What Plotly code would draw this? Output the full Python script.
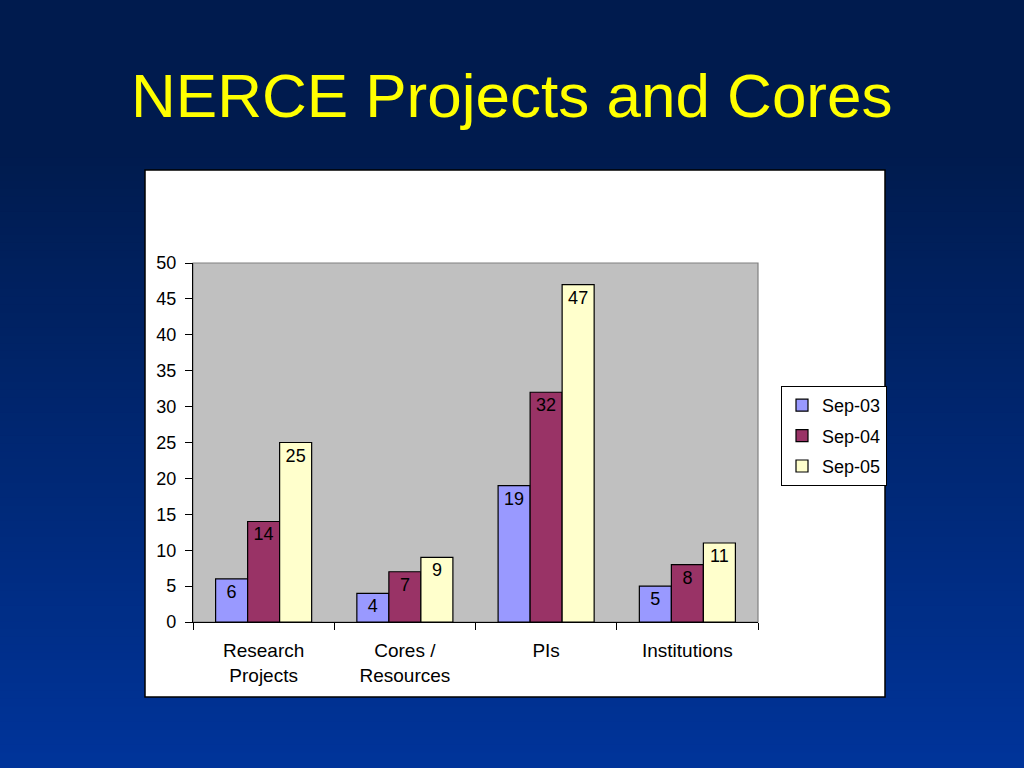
import plotly.graph_objects as go

# chart data
categories = ["Research<br>Projects", "Cores /<br>Resources", "PIs", "Institutions"]
series_names = ["Sep-03", "Sep-04", "Sep-05"]
sep03 = [6, 4, 19, 5]
sep04 = [14, 7, 32, 8]
sep05 = [25, 9, 47, 11]
y_ticks = [0, 5, 10, 15, 20, 25, 30, 35, 40, 45, 50]

colors = ["#9999FF", "#993366", "#FFFFCC"]
FONT = "Liberation Sans, Arial, sans-serif"

fig = go.Figure()
for name, vals, col in zip(series_names, [sep03, sep04, sep05], colors):
    fig.add_trace(go.Bar(
        x=categories, y=vals, name=name, legendgroup=name,
        marker=dict(color=col, line=dict(color="black", width=1.2)),
        text=[str(v) for v in vals],
        textposition="inside", insidetextanchor="end",
        textfont=dict(family=FONT, size=18, color="black"),
        textangle=0,
    ))

# plot area in page pixels; shapes below use paper coords derived from it
L, R, T, B = 193, 758, 263, 622
pw, ph = R - L, B - T
def px(x):
    return (x - L) / pw
def py(y):
    return (B - y) / ph

# slide background: flat navy on top, then a vertical gradient
top_rgb = (0, 27, 78)
bot_rgb = (0, 52, 154)
grad_start = 150
shapes = [dict(
    type="rect", xref="paper", yref="paper", layer="below",
    x0=px(-5), x1=px(1030), y0=py(grad_start), y1=py(-5),
    line=dict(width=0), fillcolor="rgb(%d,%d,%d)" % top_rgb,
)]
n_bands = 80
step = (768 - grad_start) / n_bands
for i in range(n_bands):
    t = (i + 0.5) / n_bands
    c = tuple(round(a + (b - a) * t) for a, b in zip(top_rgb, bot_rgb))
    y0 = grad_start + i * step
    shapes.append(dict(
        type="rect", xref="paper", yref="paper", layer="below",
        x0=px(-5), x1=px(1030), y0=py(y0 + step + 1), y1=py(y0),
        line=dict(width=0), fillcolor="rgb(%d,%d,%d)" % c,
    ))

# white chart panel and grey plot area
shapes.append(dict(
    type="rect", xref="paper", yref="paper", layer="below",
    x0=px(145), x1=px(885), y0=py(697), y1=py(170),
    line=dict(color="black", width=1.5), fillcolor="white",
))
shapes.append(dict(
    type="rect", xref="paper", yref="paper", layer="below",
    x0=0, x1=1, y0=0, y1=1,
    line=dict(color="#808080", width=1.2), fillcolor="#C0C0C0",
))

fig.update_layout(
    width=1024, height=768,
    margin=dict(l=L, r=1024 - R, t=T, b=768 - B),
    paper_bgcolor="rgb(%d,%d,%d)" % top_rgb,
    plot_bgcolor="rgba(0,0,0,0)",
    barmode="group", bargap=0.32, bargroupgap=0,
    shapes=shapes,
    showlegend=True,
    legend=dict(
        x=px(781), y=py(386), xanchor="left", yanchor="top",
        bgcolor="white", bordercolor="black", borderwidth=1,
        font=dict(family=FONT, size=18, color="black"),
        tracegroupgap=4, itemwidth=30,
    ),
    annotations=[dict(
        text="NERCE Projects and Cores", xref="paper", yref="paper",
        x=px(512), y=py(96), xanchor="center", yanchor="middle",
        showarrow=False, font=dict(family=FONT, size=62, color="#FFFF00"),
    )],
    font=dict(family=FONT, color="black"),
)

fig.update_xaxes(
    showline=True, linecolor="black", linewidth=1.2,
    ticks="outside", tickson="boundaries", ticklen=7, tickcolor="black",
    tickfont=dict(family=FONT, size=19, color="black"),
    ticklabelstandoff=11,
    showgrid=False, fixedrange=True,
)
fig.update_yaxes(
    range=[0, 50], tickvals=y_ticks,
    showline=True, linecolor="black", linewidth=1.2,
    ticks="outside", ticklen=7, tickcolor="black",
    tickfont=dict(family=FONT, size=18, color="black"),
    ticklabelstandoff=5,
    showgrid=False, zeroline=False, fixedrange=True,
)

fig.write_html(
    "out.html",
    config={"displayModeBar": False},
    post_script="document.body.style.margin='0';",
)
